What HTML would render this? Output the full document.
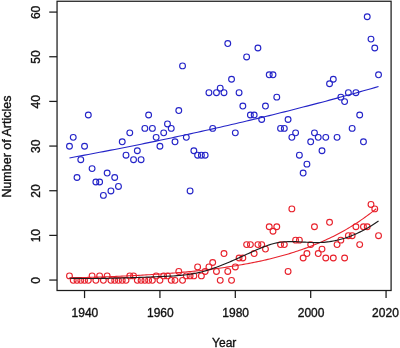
<!DOCTYPE html>
<html><head><meta charset="utf-8"><title>Number of Articles by Year</title>
<style>html,body{margin:0;padding:0;background:#fff}svg{display:block}text{font-family:"Liberation Sans",Arial,Helvetica,sans-serif;font-size:12px;fill:#111;stroke:#111;stroke-width:0.35px}</style>
</head><body>
<svg width="400" height="348" viewBox="0 0 400 348">
<rect width="400" height="348" fill="#fff"/>
<g fill="none" stroke-width="1.12">
<circle cx="69.47" cy="146.27" r="2.9" stroke="#2424c8"/>
<circle cx="73.24" cy="137.34" r="2.9" stroke="#2424c8"/>
<circle cx="77.01" cy="177.53" r="2.9" stroke="#2424c8"/>
<circle cx="80.78" cy="159.67" r="2.9" stroke="#2424c8"/>
<circle cx="84.55" cy="146.27" r="2.9" stroke="#2424c8"/>
<circle cx="88.32" cy="115.01" r="2.9" stroke="#2424c8"/>
<circle cx="92.09" cy="168.60" r="2.9" stroke="#2424c8"/>
<circle cx="95.86" cy="182.00" r="2.9" stroke="#2424c8"/>
<circle cx="99.63" cy="182.00" r="2.9" stroke="#2424c8"/>
<circle cx="103.39" cy="195.40" r="2.9" stroke="#2424c8"/>
<circle cx="107.16" cy="173.07" r="2.9" stroke="#2424c8"/>
<circle cx="110.93" cy="190.93" r="2.9" stroke="#2424c8"/>
<circle cx="114.70" cy="177.53" r="2.9" stroke="#2424c8"/>
<circle cx="118.47" cy="186.46" r="2.9" stroke="#2424c8"/>
<circle cx="122.24" cy="141.80" r="2.9" stroke="#2424c8"/>
<circle cx="126.01" cy="155.20" r="2.9" stroke="#2424c8"/>
<circle cx="129.78" cy="132.87" r="2.9" stroke="#2424c8"/>
<circle cx="133.55" cy="159.67" r="2.9" stroke="#2424c8"/>
<circle cx="137.32" cy="150.74" r="2.9" stroke="#2424c8"/>
<circle cx="141.09" cy="159.67" r="2.9" stroke="#2424c8"/>
<circle cx="144.85" cy="128.41" r="2.9" stroke="#2424c8"/>
<circle cx="148.62" cy="115.01" r="2.9" stroke="#2424c8"/>
<circle cx="152.39" cy="128.41" r="2.9" stroke="#2424c8"/>
<circle cx="156.16" cy="137.34" r="2.9" stroke="#2424c8"/>
<circle cx="159.93" cy="146.27" r="2.9" stroke="#2424c8"/>
<circle cx="163.70" cy="132.87" r="2.9" stroke="#2424c8"/>
<circle cx="167.47" cy="123.94" r="2.9" stroke="#2424c8"/>
<circle cx="171.24" cy="128.41" r="2.9" stroke="#2424c8"/>
<circle cx="175.01" cy="141.80" r="2.9" stroke="#2424c8"/>
<circle cx="178.78" cy="110.54" r="2.9" stroke="#2424c8"/>
<circle cx="182.54" cy="65.88" r="2.9" stroke="#2424c8"/>
<circle cx="186.31" cy="137.34" r="2.9" stroke="#2424c8"/>
<circle cx="190.08" cy="190.93" r="2.9" stroke="#2424c8"/>
<circle cx="193.85" cy="150.74" r="2.9" stroke="#2424c8"/>
<circle cx="197.62" cy="155.20" r="2.9" stroke="#2424c8"/>
<circle cx="201.39" cy="155.20" r="2.9" stroke="#2424c8"/>
<circle cx="205.16" cy="155.20" r="2.9" stroke="#2424c8"/>
<circle cx="208.93" cy="92.68" r="2.9" stroke="#2424c8"/>
<circle cx="212.70" cy="128.41" r="2.9" stroke="#2424c8"/>
<circle cx="216.46" cy="92.68" r="2.9" stroke="#2424c8"/>
<circle cx="220.23" cy="88.21" r="2.9" stroke="#2424c8"/>
<circle cx="224.00" cy="92.68" r="2.9" stroke="#2424c8"/>
<circle cx="227.77" cy="43.55" r="2.9" stroke="#2424c8"/>
<circle cx="231.54" cy="79.28" r="2.9" stroke="#2424c8"/>
<circle cx="235.31" cy="132.87" r="2.9" stroke="#2424c8"/>
<circle cx="239.08" cy="92.68" r="2.9" stroke="#2424c8"/>
<circle cx="242.85" cy="106.08" r="2.9" stroke="#2424c8"/>
<circle cx="246.62" cy="56.95" r="2.9" stroke="#2424c8"/>
<circle cx="250.39" cy="115.01" r="2.9" stroke="#2424c8"/>
<circle cx="254.16" cy="115.01" r="2.9" stroke="#2424c8"/>
<circle cx="257.92" cy="48.02" r="2.9" stroke="#2424c8"/>
<circle cx="261.69" cy="119.47" r="2.9" stroke="#2424c8"/>
<circle cx="265.46" cy="106.08" r="2.9" stroke="#2424c8"/>
<circle cx="269.23" cy="74.81" r="2.9" stroke="#2424c8"/>
<circle cx="273.00" cy="74.81" r="2.9" stroke="#2424c8"/>
<circle cx="276.77" cy="97.14" r="2.9" stroke="#2424c8"/>
<circle cx="280.54" cy="128.41" r="2.9" stroke="#2424c8"/>
<circle cx="284.31" cy="128.41" r="2.9" stroke="#2424c8"/>
<circle cx="288.08" cy="119.47" r="2.9" stroke="#2424c8"/>
<circle cx="291.85" cy="137.34" r="2.9" stroke="#2424c8"/>
<circle cx="295.61" cy="132.87" r="2.9" stroke="#2424c8"/>
<circle cx="299.38" cy="155.20" r="2.9" stroke="#2424c8"/>
<circle cx="303.15" cy="173.07" r="2.9" stroke="#2424c8"/>
<circle cx="306.92" cy="164.13" r="2.9" stroke="#2424c8"/>
<circle cx="310.69" cy="141.80" r="2.9" stroke="#2424c8"/>
<circle cx="314.46" cy="132.87" r="2.9" stroke="#2424c8"/>
<circle cx="318.23" cy="137.34" r="2.9" stroke="#2424c8"/>
<circle cx="322.00" cy="150.74" r="2.9" stroke="#2424c8"/>
<circle cx="325.77" cy="137.34" r="2.9" stroke="#2424c8"/>
<circle cx="329.54" cy="83.75" r="2.9" stroke="#2424c8"/>
<circle cx="333.30" cy="79.28" r="2.9" stroke="#2424c8"/>
<circle cx="337.07" cy="137.34" r="2.9" stroke="#2424c8"/>
<circle cx="340.84" cy="97.14" r="2.9" stroke="#2424c8"/>
<circle cx="344.61" cy="101.61" r="2.9" stroke="#2424c8"/>
<circle cx="348.38" cy="92.68" r="2.9" stroke="#2424c8"/>
<circle cx="352.15" cy="128.41" r="2.9" stroke="#2424c8"/>
<circle cx="355.92" cy="92.68" r="2.9" stroke="#2424c8"/>
<circle cx="359.69" cy="115.01" r="2.9" stroke="#2424c8"/>
<circle cx="363.46" cy="141.80" r="2.9" stroke="#2424c8"/>
<circle cx="367.23" cy="16.76" r="2.9" stroke="#2424c8"/>
<circle cx="370.99" cy="39.09" r="2.9" stroke="#2424c8"/>
<circle cx="374.76" cy="48.02" r="2.9" stroke="#2424c8"/>
<circle cx="378.53" cy="74.81" r="2.9" stroke="#2424c8"/>
<circle cx="69.47" cy="275.88" r="2.9" stroke="#e8222c"/>
<circle cx="73.24" cy="280.35" r="2.9" stroke="#e8222c"/>
<circle cx="77.01" cy="280.35" r="2.9" stroke="#e8222c"/>
<circle cx="80.78" cy="280.35" r="2.9" stroke="#e8222c"/>
<circle cx="84.55" cy="280.35" r="2.9" stroke="#e8222c"/>
<circle cx="88.32" cy="280.35" r="2.9" stroke="#e8222c"/>
<circle cx="92.09" cy="275.88" r="2.9" stroke="#e8222c"/>
<circle cx="95.86" cy="280.35" r="2.9" stroke="#e8222c"/>
<circle cx="99.63" cy="275.88" r="2.9" stroke="#e8222c"/>
<circle cx="103.39" cy="280.35" r="2.9" stroke="#e8222c"/>
<circle cx="107.16" cy="275.88" r="2.9" stroke="#e8222c"/>
<circle cx="110.93" cy="280.35" r="2.9" stroke="#e8222c"/>
<circle cx="114.70" cy="280.35" r="2.9" stroke="#e8222c"/>
<circle cx="118.47" cy="280.35" r="2.9" stroke="#e8222c"/>
<circle cx="122.24" cy="280.35" r="2.9" stroke="#e8222c"/>
<circle cx="126.01" cy="280.35" r="2.9" stroke="#e8222c"/>
<circle cx="129.78" cy="275.88" r="2.9" stroke="#e8222c"/>
<circle cx="133.55" cy="275.88" r="2.9" stroke="#e8222c"/>
<circle cx="137.32" cy="280.35" r="2.9" stroke="#e8222c"/>
<circle cx="141.09" cy="280.35" r="2.9" stroke="#e8222c"/>
<circle cx="144.85" cy="280.35" r="2.9" stroke="#e8222c"/>
<circle cx="148.62" cy="280.35" r="2.9" stroke="#e8222c"/>
<circle cx="152.39" cy="280.35" r="2.9" stroke="#e8222c"/>
<circle cx="156.16" cy="275.88" r="2.9" stroke="#e8222c"/>
<circle cx="159.93" cy="280.35" r="2.9" stroke="#e8222c"/>
<circle cx="163.70" cy="275.88" r="2.9" stroke="#e8222c"/>
<circle cx="167.47" cy="275.88" r="2.9" stroke="#e8222c"/>
<circle cx="171.24" cy="280.35" r="2.9" stroke="#e8222c"/>
<circle cx="175.01" cy="280.35" r="2.9" stroke="#e8222c"/>
<circle cx="178.78" cy="271.42" r="2.9" stroke="#e8222c"/>
<circle cx="182.54" cy="280.35" r="2.9" stroke="#e8222c"/>
<circle cx="186.31" cy="275.88" r="2.9" stroke="#e8222c"/>
<circle cx="190.08" cy="275.88" r="2.9" stroke="#e8222c"/>
<circle cx="193.85" cy="275.88" r="2.9" stroke="#e8222c"/>
<circle cx="197.62" cy="266.95" r="2.9" stroke="#e8222c"/>
<circle cx="201.39" cy="275.88" r="2.9" stroke="#e8222c"/>
<circle cx="205.16" cy="271.42" r="2.9" stroke="#e8222c"/>
<circle cx="208.93" cy="266.95" r="2.9" stroke="#e8222c"/>
<circle cx="212.70" cy="262.49" r="2.9" stroke="#e8222c"/>
<circle cx="216.46" cy="271.42" r="2.9" stroke="#e8222c"/>
<circle cx="220.23" cy="280.35" r="2.9" stroke="#e8222c"/>
<circle cx="224.00" cy="253.55" r="2.9" stroke="#e8222c"/>
<circle cx="227.77" cy="271.42" r="2.9" stroke="#e8222c"/>
<circle cx="231.54" cy="280.35" r="2.9" stroke="#e8222c"/>
<circle cx="235.31" cy="266.95" r="2.9" stroke="#e8222c"/>
<circle cx="239.08" cy="258.02" r="2.9" stroke="#e8222c"/>
<circle cx="242.85" cy="258.02" r="2.9" stroke="#e8222c"/>
<circle cx="246.62" cy="244.62" r="2.9" stroke="#e8222c"/>
<circle cx="250.39" cy="244.62" r="2.9" stroke="#e8222c"/>
<circle cx="254.16" cy="253.55" r="2.9" stroke="#e8222c"/>
<circle cx="257.92" cy="244.62" r="2.9" stroke="#e8222c"/>
<circle cx="261.69" cy="244.62" r="2.9" stroke="#e8222c"/>
<circle cx="265.46" cy="249.09" r="2.9" stroke="#e8222c"/>
<circle cx="269.23" cy="226.76" r="2.9" stroke="#e8222c"/>
<circle cx="273.00" cy="231.22" r="2.9" stroke="#e8222c"/>
<circle cx="276.77" cy="226.76" r="2.9" stroke="#e8222c"/>
<circle cx="280.54" cy="244.62" r="2.9" stroke="#e8222c"/>
<circle cx="284.31" cy="244.62" r="2.9" stroke="#e8222c"/>
<circle cx="288.08" cy="271.42" r="2.9" stroke="#e8222c"/>
<circle cx="291.85" cy="208.89" r="2.9" stroke="#e8222c"/>
<circle cx="295.61" cy="240.16" r="2.9" stroke="#e8222c"/>
<circle cx="299.38" cy="240.16" r="2.9" stroke="#e8222c"/>
<circle cx="303.15" cy="258.02" r="2.9" stroke="#e8222c"/>
<circle cx="306.92" cy="253.55" r="2.9" stroke="#e8222c"/>
<circle cx="310.69" cy="244.62" r="2.9" stroke="#e8222c"/>
<circle cx="314.46" cy="226.76" r="2.9" stroke="#e8222c"/>
<circle cx="318.23" cy="253.55" r="2.9" stroke="#e8222c"/>
<circle cx="322.00" cy="249.09" r="2.9" stroke="#e8222c"/>
<circle cx="325.77" cy="258.02" r="2.9" stroke="#e8222c"/>
<circle cx="329.54" cy="222.29" r="2.9" stroke="#e8222c"/>
<circle cx="333.30" cy="258.02" r="2.9" stroke="#e8222c"/>
<circle cx="337.07" cy="244.62" r="2.9" stroke="#e8222c"/>
<circle cx="340.84" cy="240.16" r="2.9" stroke="#e8222c"/>
<circle cx="344.61" cy="258.02" r="2.9" stroke="#e8222c"/>
<circle cx="348.38" cy="235.69" r="2.9" stroke="#e8222c"/>
<circle cx="352.15" cy="235.69" r="2.9" stroke="#e8222c"/>
<circle cx="355.92" cy="226.76" r="2.9" stroke="#e8222c"/>
<circle cx="359.69" cy="244.62" r="2.9" stroke="#e8222c"/>
<circle cx="363.46" cy="226.76" r="2.9" stroke="#e8222c"/>
<circle cx="367.23" cy="226.76" r="2.9" stroke="#e8222c"/>
<circle cx="370.99" cy="204.43" r="2.9" stroke="#e8222c"/>
<circle cx="374.76" cy="208.89" r="2.9" stroke="#e8222c"/>
<circle cx="378.53" cy="235.69" r="2.9" stroke="#e8222c"/>
</g>
<polyline fill="none" stroke="#2424c8" stroke-width="1.1" points="69.47,157.93 73.24,157.24 77.01,156.55 80.78,155.85 84.55,155.15 88.32,154.45 92.09,153.74 95.86,153.03 99.63,152.32 103.39,151.60 107.16,150.87 110.93,150.15 114.70,149.42 118.47,148.68 122.24,147.94 126.01,147.20 129.78,146.45 133.55,145.70 137.32,144.94 141.09,144.18 144.85,143.41 148.62,142.65 152.39,141.87 156.16,141.09 159.93,140.31 163.70,139.53 167.47,138.73 171.24,137.94 175.01,137.14 178.78,136.33 182.54,135.52 186.31,134.71 190.08,133.89 193.85,133.07 197.62,132.24 201.39,131.41 205.16,130.57 208.93,129.73 212.70,128.89 216.46,128.03 220.23,127.18 224.00,126.32 227.77,125.45 231.54,124.58 235.31,123.71 239.08,122.83 242.85,121.94 246.62,121.05 250.39,120.16 254.16,119.26 257.92,118.35 261.69,117.44 265.46,116.53 269.23,115.60 273.00,114.68 276.77,113.75 280.54,112.81 284.31,111.87 288.08,110.92 291.85,109.97 295.61,109.01 299.38,108.05 303.15,107.08 306.92,106.11 310.69,105.13 314.46,104.14 318.23,103.15 322.00,102.16 325.77,101.16 329.54,100.15 333.30,99.14 337.07,98.12 340.84,97.09 344.61,96.06 348.38,95.03 352.15,93.99 355.92,92.94 359.69,91.89 363.46,90.83 367.23,89.76 370.99,88.69 374.76,87.61 378.53,86.53"/>
<polyline fill="none" stroke="#e8222c" stroke-width="1.1" points="69.47,277.91 71.34,277.86 73.22,277.81 75.09,277.77 76.96,277.72 78.83,277.67 80.70,277.62 82.57,277.56 84.44,277.51 86.31,277.45 88.18,277.40 90.05,277.34 91.92,277.28 93.79,277.22 95.66,277.16 97.53,277.10 99.41,277.04 101.28,276.97 103.15,276.90 105.02,276.84 106.89,276.77 108.76,276.69 110.63,276.62 112.50,276.55 114.37,276.47 116.24,276.40 118.11,276.32 119.98,276.24 121.85,276.15 123.72,276.07 125.60,275.98 127.47,275.90 129.34,275.81 131.21,275.71 133.08,275.62 134.95,275.52 136.82,275.43 138.69,275.33 140.56,275.22 142.43,275.12 144.30,275.01 146.17,274.90 148.04,274.79 149.91,274.68 151.79,274.56 153.66,274.45 155.53,274.32 157.40,274.20 159.27,274.07 161.14,273.95 163.01,273.81 164.88,273.68 166.75,273.54 168.62,273.40 170.49,273.26 172.36,273.11 174.23,272.96 176.10,272.81 177.98,272.65 179.85,272.49 181.72,272.33 183.59,272.16 185.46,271.99 187.33,271.82 189.20,271.64 191.07,271.46 192.94,271.27 194.81,271.08 196.68,270.89 198.55,270.69 200.42,270.49 202.29,270.28 204.17,270.07 206.04,269.85 207.91,269.63 209.78,269.41 211.65,269.18 213.52,268.94 215.39,268.70 217.26,268.46 219.13,268.21 221.00,267.95 222.87,267.69 224.74,267.42 226.61,267.15 228.48,266.87 230.36,266.58 232.23,266.29 234.10,266.00 235.97,265.69 237.84,265.38 239.71,265.07 241.58,264.74 243.45,264.41 245.32,264.07 247.19,263.73 249.06,263.38 250.93,263.02 252.80,262.65 254.67,262.27 256.55,261.89 258.42,261.49 260.29,261.09 262.16,260.68 264.03,260.27 265.90,259.84 267.77,259.40 269.64,258.95 271.51,258.50 273.38,258.03 275.25,257.56 277.12,257.07 278.99,256.57 280.86,256.07 282.74,255.55 284.61,255.02 286.48,254.48 288.35,253.93 290.22,253.36 292.09,252.79 293.96,252.20 295.83,251.59 297.70,250.98 299.57,250.35 301.44,249.71 303.31,249.05 305.18,248.38 307.05,247.70 308.93,247.00 310.80,246.29 312.67,245.56 314.54,244.81 316.41,244.05 318.28,243.27 320.15,242.48 322.02,241.67 323.89,240.84 325.76,239.99 327.63,239.12 329.50,238.24 331.37,237.34 333.24,236.41 335.11,235.47 336.99,234.51 338.86,233.52 340.73,232.52 342.60,231.49 344.47,230.44 346.34,229.37 348.21,228.27 350.08,227.15 351.95,226.01 353.82,224.84 355.69,223.65 357.56,222.43 359.43,221.19 361.30,219.91 363.18,218.62 365.05,217.29 366.92,215.93 368.79,214.55 370.66,213.13 372.53,211.68 374.40,210.21 376.27,208.70"/>
<polyline fill="none" stroke="#1c1c1c" stroke-width="1.15" points="69.47,278.24 71.36,278.28 73.24,278.32 75.13,278.36 77.01,278.39 78.90,278.41 80.78,278.43 82.67,278.45 84.55,278.46 86.43,278.47 88.32,278.47 90.20,278.47 92.09,278.47 93.97,278.46 95.86,278.45 97.74,278.43 99.63,278.42 101.51,278.40 103.39,278.37 105.28,278.34 107.16,278.31 109.05,278.28 110.93,278.24 112.82,278.20 114.70,278.16 116.59,278.12 118.47,278.07 120.36,278.02 122.24,277.97 124.12,277.92 126.01,277.86 127.89,277.80 129.78,277.74 131.66,277.68 133.55,277.62 135.43,277.55 137.32,277.49 139.20,277.42 141.09,277.35 142.97,277.28 144.85,277.21 146.74,277.13 148.62,277.06 150.51,276.98 152.39,276.91 154.28,276.83 156.16,276.75 158.05,276.68 159.93,276.60 161.81,276.52 163.70,276.44 165.58,276.35 167.47,276.26 169.35,276.17 171.24,276.06 173.12,275.95 175.01,275.82 176.89,275.68 178.78,275.53 180.66,275.36 182.54,275.17 184.43,274.96 186.31,274.73 188.20,274.48 190.08,274.21 191.97,273.90 193.85,273.58 195.74,273.22 197.62,272.83 199.50,272.41 201.39,271.95 203.27,271.46 205.16,270.94 207.04,270.39 208.93,269.81 210.81,269.20 212.70,268.57 214.58,267.91 216.46,267.23 218.35,266.52 220.23,265.80 222.12,265.05 224.00,264.29 225.89,263.52 227.77,262.72 229.66,261.92 231.54,261.10 233.43,260.27 235.31,259.44 237.19,258.60 239.08,257.75 240.96,256.89 242.85,256.04 244.73,255.18 246.62,254.32 248.50,253.47 250.39,252.61 252.27,251.76 254.16,250.92 256.04,250.08 257.92,249.26 259.81,248.45 261.69,247.66 263.58,246.90 265.46,246.18 267.35,245.49 269.23,244.85 271.12,244.25 273.00,243.72 274.88,243.24 276.77,242.83 278.65,242.49 280.54,242.21 282.42,241.99 284.31,241.83 286.19,241.71 288.08,241.64 289.96,241.61 291.85,241.61 293.73,241.64 295.61,241.69 297.50,241.77 299.38,241.86 301.27,241.96 303.15,242.07 305.04,242.17 306.92,242.28 308.81,242.38 310.69,242.46 312.57,242.53 314.46,242.57 316.34,242.59 318.23,242.58 320.11,242.53 322.00,242.44 323.88,242.31 325.77,242.14 327.65,241.93 329.54,241.68 331.42,241.38 333.30,241.05 335.19,240.68 337.07,240.26 338.96,239.81 340.84,239.31 342.73,238.77 344.61,238.20 346.50,237.58 348.38,236.92 350.26,236.23 352.15,235.49 354.03,234.71 355.92,233.90 357.80,233.04 359.69,232.14 361.57,231.20 363.46,230.23 365.34,229.21 367.23,228.16 369.11,227.06 370.99,225.93 372.88,224.75 374.76,223.54 376.65,222.28 378.53,220.99"/>
<rect x="57.05" y="1.25" width="334.05" height="289.25" fill="none" stroke="#1c1c1c" stroke-width="1.25"/>
<line x1="84.55" y1="290.5" x2="84.55" y2="298.1" stroke="#1c1c1c" stroke-width="1.25"/>
<text x="84.95" y="317.3" text-anchor="middle">1940</text>
<line x1="159.93" y1="290.5" x2="159.93" y2="298.1" stroke="#1c1c1c" stroke-width="1.25"/>
<text x="160.33" y="317.3" text-anchor="middle">1960</text>
<line x1="235.31" y1="290.5" x2="235.31" y2="298.1" stroke="#1c1c1c" stroke-width="1.25"/>
<text x="235.71" y="317.3" text-anchor="middle">1980</text>
<line x1="310.69" y1="290.5" x2="310.69" y2="298.1" stroke="#1c1c1c" stroke-width="1.25"/>
<text x="311.09" y="317.3" text-anchor="middle">2000</text>
<line x1="386.07" y1="290.5" x2="386.07" y2="298.1" stroke="#1c1c1c" stroke-width="1.25"/>
<text x="385.47" y="317.3" text-anchor="middle">2020</text>
<line x1="49.25" y1="280.05" x2="57.05" y2="280.05" stroke="#1c1c1c" stroke-width="1.25"/>
<text transform="translate(40.2,280.35) rotate(-90)" text-anchor="middle">0</text>
<line x1="49.25" y1="235.39" x2="57.05" y2="235.39" stroke="#1c1c1c" stroke-width="1.25"/>
<text transform="translate(40.2,235.69) rotate(-90)" text-anchor="middle">10</text>
<line x1="49.25" y1="190.73" x2="57.05" y2="190.73" stroke="#1c1c1c" stroke-width="1.25"/>
<text transform="translate(40.2,191.03) rotate(-90)" text-anchor="middle">20</text>
<line x1="49.25" y1="146.07" x2="57.05" y2="146.07" stroke="#1c1c1c" stroke-width="1.25"/>
<text transform="translate(40.2,146.37) rotate(-90)" text-anchor="middle">30</text>
<line x1="49.25" y1="101.41" x2="57.05" y2="101.41" stroke="#1c1c1c" stroke-width="1.25"/>
<text transform="translate(40.2,101.71) rotate(-90)" text-anchor="middle">40</text>
<line x1="49.25" y1="56.75" x2="57.05" y2="56.75" stroke="#1c1c1c" stroke-width="1.25"/>
<text transform="translate(40.2,57.05) rotate(-90)" text-anchor="middle">50</text>
<line x1="49.25" y1="12.09" x2="57.05" y2="12.09" stroke="#1c1c1c" stroke-width="1.25"/>
<text transform="translate(40.2,12.39) rotate(-90)" text-anchor="middle">60</text>
<text x="224.2" y="346.8" text-anchor="middle">Year</text>
<text transform="translate(10.7,146.6) rotate(-90)" text-anchor="middle" textLength="102" lengthAdjust="spacingAndGlyphs">Number of Articles</text>
</svg>
</body></html>
